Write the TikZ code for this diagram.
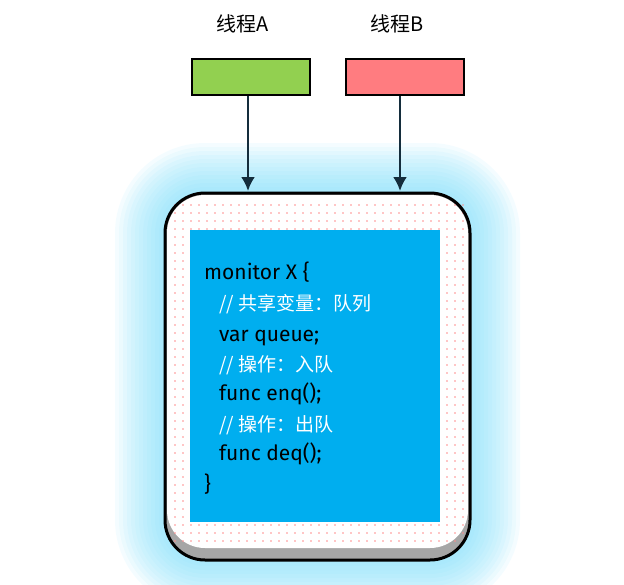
\documentclass[tikz,border=0pt]{standalone}
\usepackage{fontspec}
\usetikzlibrary{arrows.meta}
\setmainfont{Fira Sans}
\newfontfamily\cjk{Noto Sans CJK SC}
\begin{document}
\begin{tikzpicture}[x=1pt,y=-1pt,
  thr/.style={draw=black,line width=1.5pt,minimum width=118pt,minimum height=36pt,inner sep=0pt},
  lbl/.style={font=\cjk\fontsize{20}{24}\selectfont},
  arr/.style={line width=2.5pt,draw={rgb,255:red,20;green,45;blue,60},-{Latex[length=14pt,width=14pt]}},
  codeln/.style={anchor=base west,inner sep=0pt,font=\fontsize{21}{24}\selectfont},
  cmtln/.style={codeln,text=white,font=\cjk\fontsize{19}{24}\selectfont}]
\useasboundingbox (0,0) rectangle (624,584);
\definecolor{glow}{RGB}{120,220,250}
\definecolor{codeblue}{RGB}{0,174,239}
% glow
\foreach \i in {50,46,...,0}{
  \fill[glow,opacity=0.08,rounded corners=40+\i] (165-\i,193-\i) rectangle (470+\i,560+\i);
}
% outer box
\fill[gray!70,rounded corners=40] (165,193) rectangle (470,560);
\fill[white,rounded corners=38] (167,195) rectangle (468,548);
\foreach \x in {175,183,...,465}{\foreach \y in {205,213,...,548}{
  \fill[red!45] (\x,\y) circle (0.8);}}
\draw[black,line width=3pt,rounded corners=40] (165,193) rectangle (470,560);
\node[draw=none,fill=codeblue,minimum width=250pt,minimum height=292pt,inner sep=0pt] (inner) at (315,376) {};
% code
\node[codeln] (l1) at (204,279) {monitor X \{};
\node[cmtln] (l2) at (219,310) {// 共享变量：队列};
\node[codeln] (l3) at (219,341) {var queue;};
\node[cmtln] (l4) at (219,371) {// 操作：入队};
\node[codeln] (l5) at (219,400) {func enq();};
\node[cmtln] (l6) at (219,431) {// 操作：出队};
\node[codeln] (l7) at (219,460) {func deq();};
\node[codeln] (l8) at (204,491) {\}};
% threads
\node[thr,fill={rgb,255:red,146;green,208;blue,80}] (ta) at (251,77) {};
\node[thr,fill={rgb,255:red,255;green,124;blue,128}] (tb) at (405,77) {};
\node[lbl] (la) at (243,24) {线程A};
\node[lbl] (lb) at (397,24) {线程B};
\coordinate (ea) at (248,191);
\coordinate (eb) at (400,191);
\draw[arr] (ta.south -| ea) -- (ea);
\draw[arr] (tb.south -| eb) -- (eb);
\end{tikzpicture}
\end{document}
